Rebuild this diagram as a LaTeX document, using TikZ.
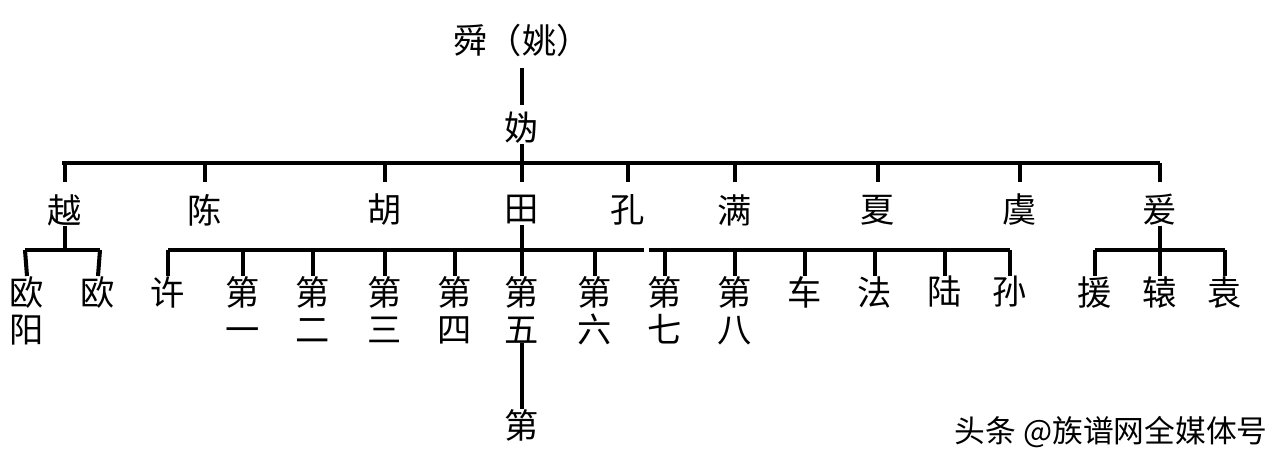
\documentclass[tikz,border=0pt]{standalone}
\usepackage{fontspec}
\setmainfont{Noto Sans CJK SC}
\begin{document}
\begin{tikzpicture}[x=0.02cm, y=-0.02cm,
  every node/.style={font=\fontsize{19.5}{21}\selectfont, inner sep=0pt},
  link/.style={line width=2.3pt}]
  \useasboundingbox (0,0) rectangle (1280,462);

  \node (shun) at (522,40) {舜（姚）};
  \node (gui) at (522,128) {妫};
  \draw[link] (522,68) -- (522,105);

  % second row
  \node (yue) at (65,210) {越};
  \node (chen) at (205,210) {陈};
  \node (hu) at (385,210) {胡};
  \node (tian) at (522,210) {田};
  \node (kong) at (628,210) {孔};
  \node (man) at (735,210) {满};
  \node (xia) at (878,210) {夏};
  \node (yu) at (1020,210) {虞};
  \node (yuan) at (1160,210) {爰};
  \coordinate (topbar) at (522,163);
  \draw[link] (gui) -- (topbar);
  \draw[link] (62,163) -- (1160,163);
  \foreach \n/\x in {yue/65, chen/205, hu/385, tian/522, kong/628, man/735, xia/878, yu/1020, yuan/1160}
    \draw[link] (\x,163) -- (\x,182);

  % Yue branch
  \node[align=center, anchor=north] (ouyang) at (27,276) {欧\\阳};
  \node[anchor=north] (ou) at (98,276) {欧};
  \draw[link] (yue.south) -- (65,250);
  \draw[link] (25,250) -- (100,250);
  \draw[link] (25,250) -- (ouyang.north);
  \draw[link] (100,250) -- (ou.north);

  % Tian branch
  \draw[link] (tian.south) -- (522,250);
  \draw[link] (168,250) -- (644,250);
  \draw[link] (649,250) -- (1010,250);
  \foreach \n/\x/\t in {xu/168/许, d1/243/第\\一, d2/313/第\\二, d3/385/第\\三,
      d4/455/第\\四, d5/522/第\\五, d6/595/第\\六, d7/665/第\\七, d8/735/第\\八,
      che/805/车, fa/875/法, lu/945/陆, sun/1010/孙} {
    \node[align=center, anchor=north] (\n) at (\x,276) {\t};
    \draw[link] (\x,250) -- (\n.north);
  }
  \node (di) at (522,425) {第};
  \draw[link] (d5.south) -- (di.north);

  % Yuan branch
  \draw[link] (yuan.south) -- (1160,250);
  \draw[link] (1095,250) -- (1225,250);
  \foreach \n/\x/\t in {yuan1/1095/援, yuan2/1160/辕, yuan3/1225/袁} {
    \node[anchor=north] (\n) at (\x,276) {\t};
    \draw[link] (\x,250) -- (\n.north);
  }

  \node[font=\fontsize{17.5}{19}\selectfont, anchor=east] (mark) at (1268,432) {头条 @族谱网全媒体号};
\end{tikzpicture}
\end{document}
